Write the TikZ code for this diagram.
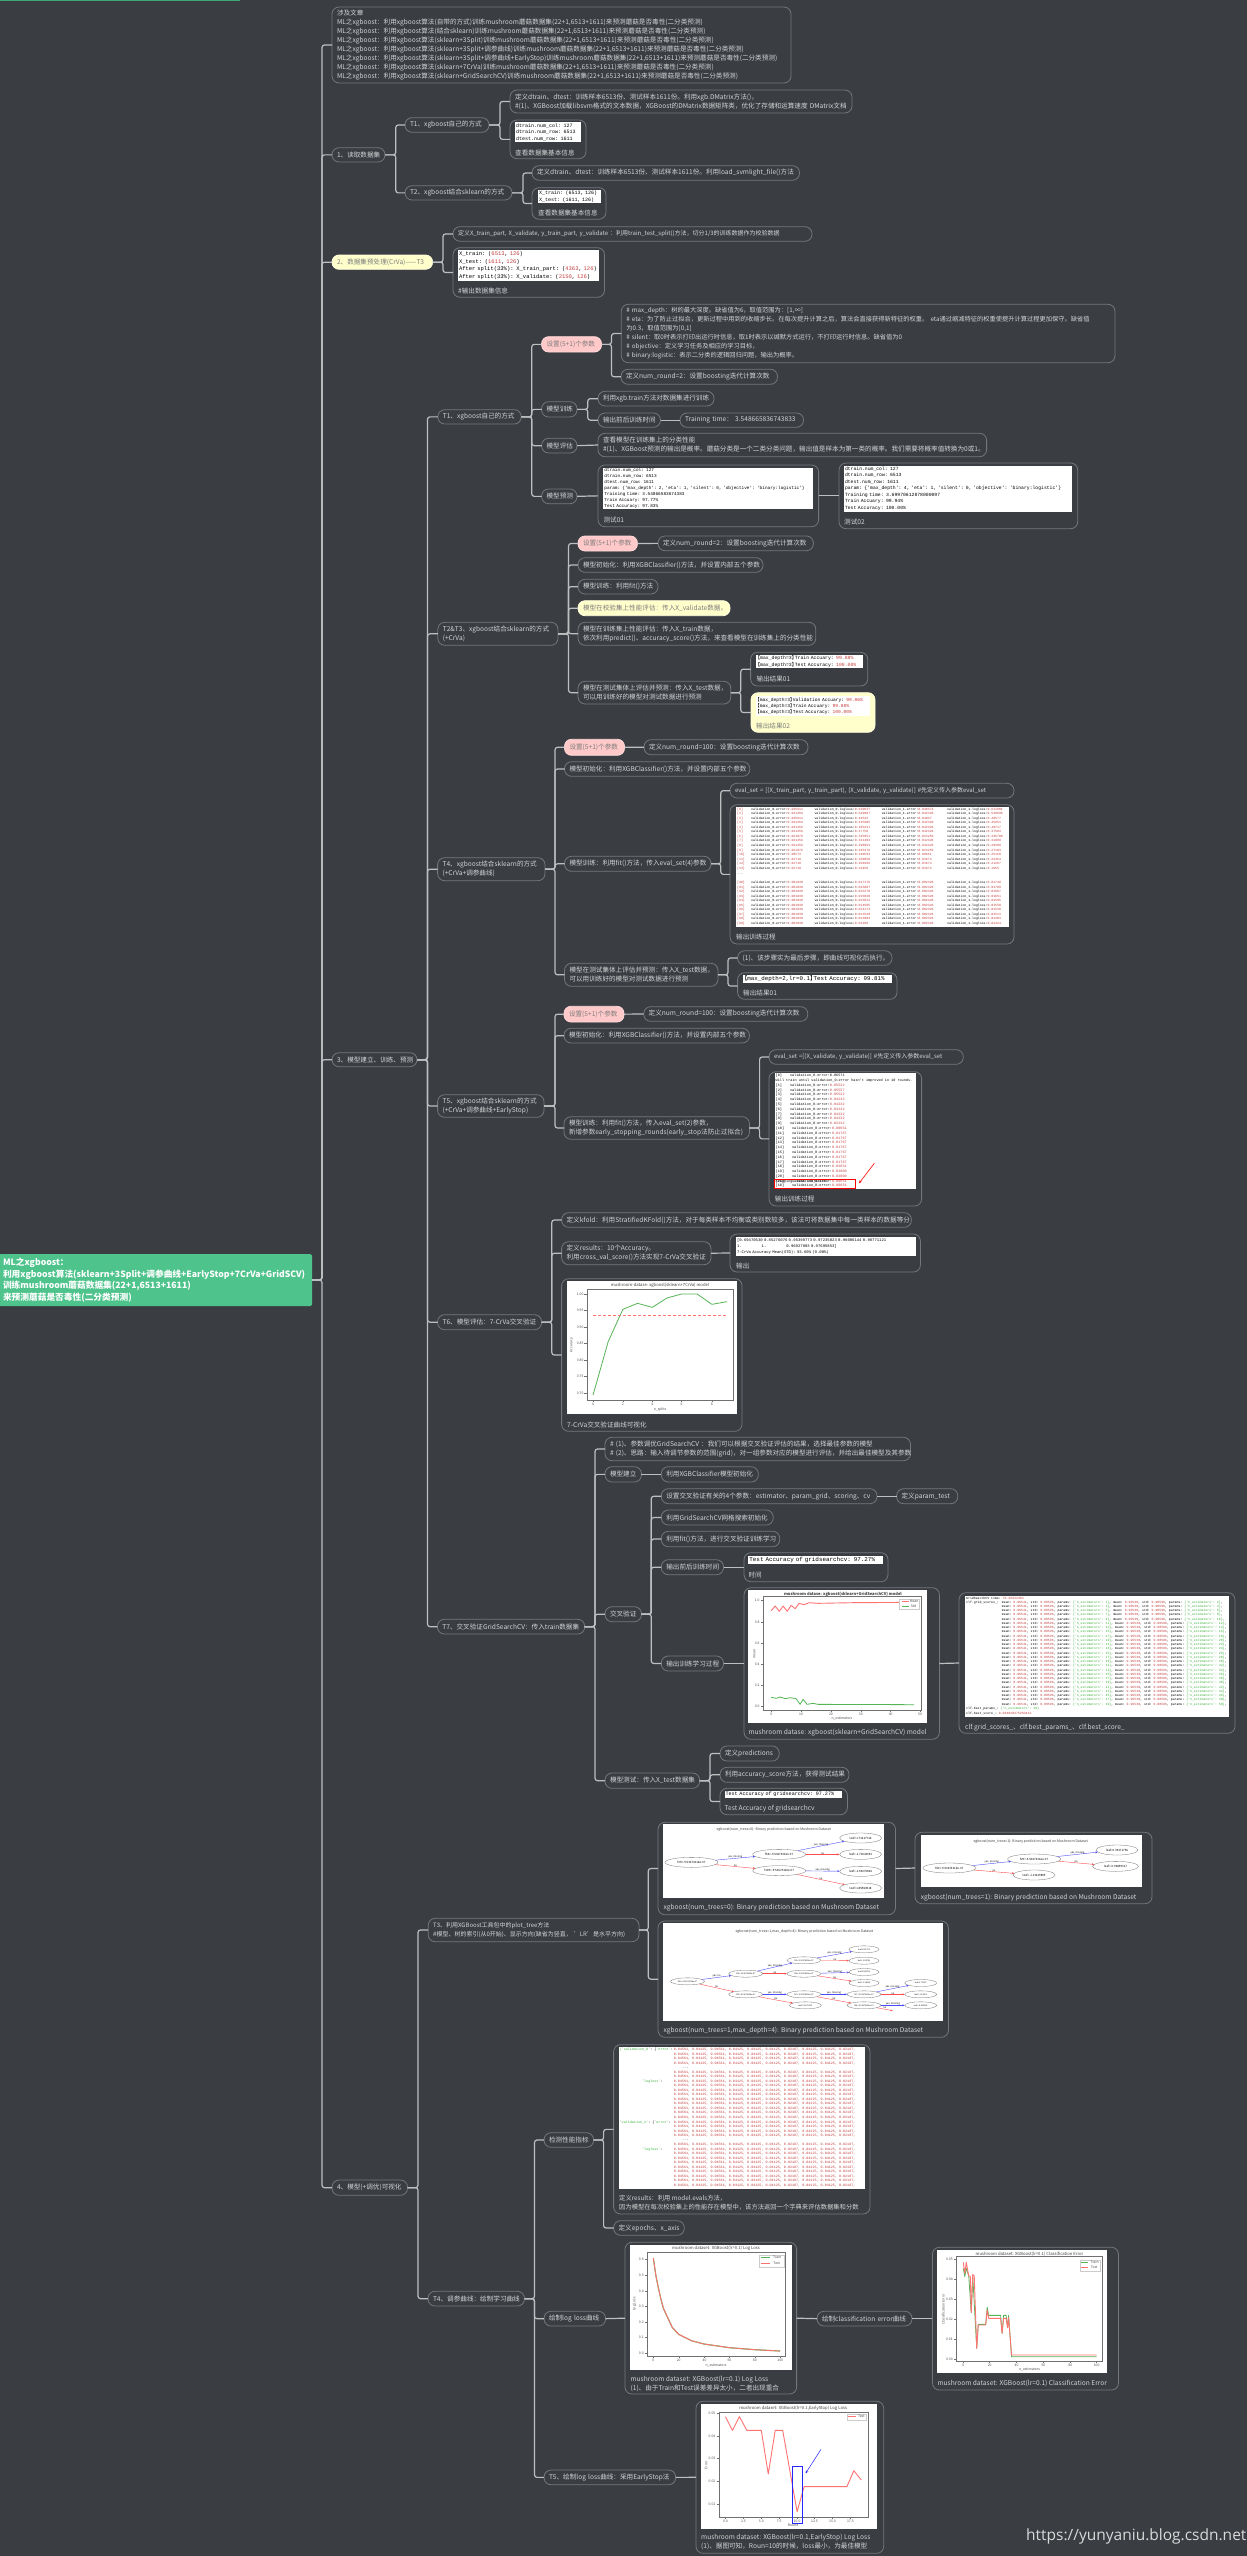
\documentclass[tikz,border=0pt]{standalone}
\usepackage{fontspec}
\setmainfont{Noto Sans CJK SC}
\setmonofont{Liberation Mono}
\newfontfamily\wmfont{Open Sans}
\usetikzlibrary{arrows.meta,shapes.geometric}
\definecolor{bg}{HTML}{3A3D42}
\definecolor{bd}{HTML}{73767B}
\definecolor{tx}{HTML}{D4D5D6}
\definecolor{cn}{HTML}{BDBFC1}
\definecolor{rootg}{HTML}{4FC38C}
\definecolor{topg}{HTML}{3FA877}
\definecolor{pinkf}{HTML}{FFC9C9}
\definecolor{yelf}{HTML}{FFFFCC}
\definecolor{dimt}{HTML}{7C7C7C}
\definecolor{rd}{HTML}{C43C3C}
\definecolor{grn}{HTML}{35B035}
\definecolor{crv}{HTML}{FF7272}
\definecolor{crg}{HTML}{55B455}
\definecolor{axc}{HTML}{707070}
\newcommand\redt[1]{\textcolor{rd}{#1}}
\newcommand\grnt[1]{\textcolor{grn}{#1}}
\newcommand\lbk{{\rmfamily\makebox[.6em][r]{【}}}
\newcommand\rbk{{\rmfamily\makebox[.6em][l]{】}}}
\tikzset{
  rc/.style n args={4}{at={(#1,#2)},anchor=north west,minimum width={(#3-#1)*1pt},minimum height={(#4-#2)*1pt},text width={(#3-#1-10)*1pt}},
  pc/.style n args={4}{at={(#1,#2)},anchor=north west,minimum width={(#3-#1)*1pt},minimum height={(#4-#2)*1pt},text width={(#3-#1-2)*1pt}},
  fs/.style={font=\fontsize{#1}{9}\selectfont},
  topic/.style={draw=bd,fill=bg,rounded corners=7pt,text=tx,font=\fontsize{6.6}{9}\selectfont,inner xsep=5pt,inner ysep=0pt,align=left,outer sep=0pt,line width=.8pt},
  pinkn/.style={topic,fill=pinkf,draw=pinkf!70!white,text=dimt},
  yeln/.style={topic,fill=yelf,draw=yelf!70!white,text=dimt},
  rootn/.style={fill=rootg,rounded corners=1.5pt,text=white,font=\fontsize{8.7}{11.8}\selectfont\bfseries,inner xsep=4pt,inner ysep=0pt,align=left,outer sep=0pt},
  panel/.style={fill=white,inner xsep=1pt,inner ysep=0pt,outer sep=0pt,align=left,text=black},
  capn/.style={anchor=west,inner sep=0pt,text=tx,font=\fontsize{6.6}{9}\selectfont,align=left},
  capy/.style={capn,text=dimt},
  conn/.style={draw=cn,line width=1.2pt,rounded corners=2.5pt},
  elb/.style={to path={-- ++(#1,0) |- (\tikztotarget)}},
  lg/.style={anchor=west,inner sep=0pt,text=black,font=\ttfamily\fontsize{3.2}{4}\selectfont},
  tick/.style={inner sep=0pt,text=black!70,font=\fontsize{3.4}{4}\selectfont},
  ptitle/.style={inner sep=0pt,text=black!75,font=\fontsize{4.2}{5}\selectfont},
  axs/.style={draw=axc,line width=.4pt},
  cvr/.style={draw=crv,line width=.9pt,line join=round},
  cvg/.style={draw=crg,line width=.8pt,line join=round},
  tn/.style={ellipse,draw=black!55,fill=white,line width=.3pt,inner sep=0pt,text=black,font=\fontsize{2.9}{3.5}\selectfont,minimum width=#1,minimum height=10pt},
  tnb/.style={tn=#1,minimum height=7pt,font=\fontsize{2}{3}\selectfont},
  tb/.style={draw=blue!70,line width=.4pt,-{Stealth[length=2.2pt,width=2pt]}},
  tr/.style={draw=red!70,line width=.4pt,-{Stealth[length=2.2pt,width=2pt]}},
  tl/.style={inner sep=0pt,text=black,font=\fontsize{2.5}{3}\selectfont,above,midway},
}
\begin{document}
\begin{tikzpicture}[x=1pt,y=-1pt]
\useasboundingbox (0,0) rectangle (1247,2556);
\fill[bg] (0,0) rectangle (1247,2556);
\fill[topg] (0,0) rectangle (240,1.2);

% ---------- root and level 1
\node[rootn,at={(-1,1254)},anchor=north west,minimum width=313pt,minimum height=52pt,text width=305pt] (root) {ML之xgboost：\\利用xgboost算法(sklearn+3Split+调参曲线+EarlyStop+7CrVa+GridSCV)\\训练mushroom蘑菇数据集(22+1,6513+1611)\\来预测蘑菇是否毒性(二分类预测)};
\node[topic,rc={332}{7}{791}{83}] (art) {涉及文章\\ML之xgboost：利用xgboost算法(自带的方式)训练mushroom蘑菇数据集(22+1,6513+1611)来预测蘑菇是否毒性(二分类预测)\\ML之xgboost：利用xgboost算法(结合sklearn)训练mushroom蘑菇数据集(22+1,6513+1611)来预测蘑菇是否毒性(二分类预测)\\ML之xgboost：利用xgboost算法(sklearn+3Split)训练mushroom蘑菇数据集(22+1,6513+1611)来预测蘑菇是否毒性(二分类预测)\\ML之xgboost：利用xgboost算法(sklearn+3Split+调参曲线)训练mushroom蘑菇数据集(22+1,6513+1611)来预测蘑菇是否毒性(二分类预测)\\ML之xgboost：利用xgboost算法(sklearn+3Split+调参曲线+EarlyStop)训练mushroom蘑菇数据集(22+1,6513+1611)来预测蘑菇是否毒性(二分类预测)\\ML之xgboost：利用xgboost算法(sklearn+7CrVa)训练mushroom蘑菇数据集(22+1,6513+1611)来预测蘑菇是否毒性(二分类预测)\\ML之xgboost：利用xgboost算法(sklearn+GridSearchCV)训练mushroom蘑菇数据集(22+1,6513+1611)来预测蘑菇是否毒性(二分类预测)};
\node[topic,rc={332}{147.7}{385}{162}] (n1) {1、读取数据集};
\node[yeln,rc={332}{255}{432.6}{269.3}] (n2) {2、数据集预处理(CrVa)——T3};
\node[topic,rc={332}{1052.7}{417}{1066.7}] (n3) {3、模型建立、训练、预测};
\node[topic,rc={332}{2180}{407.5}{2195.3}] (n4) {4、模型(+调优)可视化};

% ---------- section 1
\node[topic,rc={405}{117.7}{489}{132.3}] (a1) {T1、xgboost自己的方式};
\node[topic,rc={510}{90}{852}{113}] (a11) {定义dtrain、dtest：训练样本6513份、测试样本1611份。利用xgb.DMatrix方法()，\\\#(1)、XGBoost加载libsvm格式的文本数据，XGBoost的DMatrix数据矩阵类，优化了存储和运算速度 DMatrix文档};
\node[topic,rc={510}{120}{586}{158.7}] (a12) {};
\node[panel,pc={515}{122.3}{581}{142.3},font=\ttfamily\fontsize{5}{6.6}\selectfont] (a12p) {dtrain.num\_col: 127\\dtrain.num\_row: 6513\\dtest.num\_row: 1611};
\node[capn] (a12c) at (515,152.7) {查看数据集基本信息};
\node[topic,rc={405}{185.7}{512}{200}] (a2) {T2、xgboost结合sklearn的方式};
\node[topic,rc={532}{165.7}{799.5}{180.3}] (a21) {定义dtrain、dtest：训练样本6513份、测试样本1611份。利用load\_svmlight\_file()方法};
\node[topic,rc={532}{187.7}{606}{219.3}] (a22) {};
\node[panel,pc={538}{190}{601}{203.3},font=\ttfamily\fontsize{5}{6.6}\selectfont] (a22p) {X\_train: (6513, 126)\\X\_test: (1611, 126)};
\node[capn] (a22c) at (538,213.3) {查看数据集基本信息};

% ---------- section 2
\node[topic,rc={453}{226.7}{812}{241.3},fs=6] (b1) {定义X\_train\_part, X\_validate, y\_train\_part, y\_validate ：利用train\_test\_split()方法，切分1/3的训练数据作为校验数据};
\node[topic,rc={453}{247.7}{604.5}{297.3}] (b2) {};
\node[panel,pc={458}{250}{599}{281.3},font=\ttfamily\fontsize{5.5}{7.4}\selectfont] (b2p) {X\_train: (\redt{6513}, \redt{126})\\X\_test: (\redt{1611}, \redt{126})\\After split(33\%): X\_train\_part: (\redt{4363}, \redt{126})\\After split(33\%): X\_validate: (\redt{2150}, \redt{126})};
\node[capn] (b2c) at (458,291.3) {\#输出数据集信息};

% ---------- T1
\node[topic,rc={437.8}{409.7}{521.3}{424}] (c) {T1、xgboost自己的方式};
\node[pinkn,rc={541.6}{336.7}{601.5}{352}] (c1) {设置(5+1)个参数};
\node[topic,rc={621.3}{304.3}{1115}{362.7},fs=6.25] (c11) {\# max\_depth：树的最大深度。缺省值为6，取值范围为：[1,∞]\\\# eta：为了防止过拟合，更新过程中用到的收缩步长。在每次提升计算之后，算法会直接获得新特征的权重。 eta通过缩减特征的权重使提升计算过程更加保守。缺省值\\为0.3，取值范围为[0,1]\\\# silent：取0时表示打印出运行时信息，取1时表示以缄默方式运行，不打印运行时信息。缺省值为0\\\# objective：定义学习任务及相应的学习目标，\\\# binary:logistic：表示二分类的逻辑回归问题，输出为概率。};
\node[topic,rc={621}{369.3}{777.5}{384.3}] (c12) {定义num\_round=2：设置boosting迭代计算次数};
\node[topic,rc={541.6}{401.7}{577}{417}] (c2) {模型训练};
\node[topic,rc={598}{391.3}{714}{406}] (c21) {利用xgb.train方法对数据集进行训练};
\node[topic,rc={598}{413}{660.5}{427.3}] (c22) {输出前后训练时间};
\node[topic,rc={680}{413}{803.5}{427.3}] (c23) {Training time： 3.548665836743833};
\node[topic,rc={541.6}{438.3}{577}{453}] (c3) {模型评估};
\node[topic,rc={598}{433.3}{986.6}{456.7}] (c31) {查看模型在训练集上的分类性能\\\#(1)、XGBoost预测的输出是概率。蘑菇分类是一个二类分类问题，输出值是样本为第一类的概率。我们需要将概率值转换为0或1。};
\node[topic,rc={541.6}{489}{577}{503.7}] (c4) {模型预测};
\node[topic,rc={598}{465}{818.6}{526.7}] (c41) {};
\node[panel,pc={603.4}{467.7}{813.4}{509.3},font=\ttfamily\fontsize{4.4}{5.95}\selectfont] (c41p) {dtrain.num\_col: 127\\dtrain.num\_row: 6513\\dtest.num\_row: 1611\\param: \{'max\_depth': 2, 'eta': 1, 'silent': 0, 'objective': 'binary:logistic'\}\\Training time: 3.54866583674383\\Train Accuary: 97.77\%\\Test Accuracy: 97.83\%};
\node[capn] (c41c) at (603.4,519.7) {测试01};
\node[topic,rc={839}{463}{1077.7}{528.7}] (c42) {};
\node[panel,pc={844}{465.7}{1072}{511.7},font=\ttfamily\fontsize{4.75}{6.5}\selectfont] (c42p) {dtrain.num\_col: 127\\dtrain.num\_row: 6513\\dtest.num\_row: 1611\\param: \{'max\_depth': 4, 'eta': 1, 'silent': 0, 'objective': 'binary:logistic'\}\\Training time: 3.69970612878000097\\Train Accuary: 99.94\%\\Test Accuracy: 100.00\%};
\node[capn] (c42c) at (844,521.7) {测试02};

% ---------- T2&T3
\node[topic,rc={437.8}{622.3}{558}{645.3}] (d) {T2\&T3、xgboost结合sklearn的方式\\(+CrVa)};
\node[pinkn,rc={578}{536}{637.4}{551}] (d1) {设置(5+1)个参数};
\node[topic,rc={658}{536}{813.4}{550.7}] (d11) {定义num\_round=2：设置boosting迭代计算次数};
\node[topic,rc={578}{557.7}{763}{572.3}] (d2) {模型初始化：利用XGBClassifier()方法，并设置内部五个参数};
\node[topic,rc={578}{579.3}{658}{594}] (d3) {模型训练：利用fit()方法};
\node[yeln,rc={578}{600.7}{730}{615.7}] (d4) {模型在校验集上性能评估：传入X\_validate数据。};
\node[topic,rc={578}{622.3}{815.8}{645.3}] (d5) {模型在训练集上性能评估：传入X\_train数据，\\依次利用predict()、accuracy\_score()方法，来查看模型在训练集上的分类性能};
\node[topic,rc={578}{681.3}{730.8}{704}] (d6) {模型在测试集体上评估并预测：传入X\_test数据，\\可以用训练好的模型对测试数据进行预测};
\node[topic,rc={750.6}{652.3}{867.7}{686}] (d61) {};
\node[panel,pc={756.3}{655}{862.5}{668.3},font=\ttfamily\fontsize{4.8}{6.5}\selectfont] (d61p) {\lbk max\_depth=3\rbk Train Accuary: \redt{99.88\%}\\\lbk max\_depth=3\rbk Test Accuracy: \redt{100.00\%}};
\node[capn] (d61c) at (756.3,679.3) {输出结果01};
\node[yeln,rc={751}{692.7}{875}{732.3}] (d62) {};
\node[panel,pc={756}{696}{869.6}{715.7},font=\ttfamily\fontsize{4.6}{6.3}\selectfont] (d62p) {\lbk max\_depth=3\rbk Validation Accuary: \redt{99.86\%}\\\lbk max\_depth=3\rbk Train Accuary: \redt{99.88\%}\\\lbk max\_depth=3\rbk Test Accuracy: \redt{100.00\%}};
\node[capy] (d62c) at (756,725.7) {输出结果02};

% ---------- T4
\node[topic,rc={437.6}{857.7}{545}{880.7}] (e) {T4、xgboost结合sklearn的方式\\(+CrVa+调参曲线)};
\node[pinkn,rc={564.5}{739.3}{624.5}{755.3}] (e1) {设置(5+1)个参数};
\node[topic,rc={644}{739.7}{808}{754.7}] (e11) {定义num\_round=100：设置boosting迭代计算次数};
\node[topic,rc={564.5}{761.7}{749.8}{776.3}] (e2) {模型初始化：利用XGBClassifier()方法，并设置内部五个参数};
\node[topic,rc={564.5}{856.3}{711}{871.3}] (e3) {模型训练：利用fit()方法，传入eval\_set(4)参数};
\node[topic,rc={730}{783.3}{1014}{798},fs=6] (e31) {eval\_set = [(X\_train\_part, y\_train\_part), (X\_validate, y\_validate)] \#先定义传入参数eval\_set};
\node[topic,rc={730}{804.7}{1014}{944}] (e32) {};
\node[panel,pc={736}{807.3}{1009}{927.3}] (e32p) {};
\foreach \n/\va/\vb/\vc/\vd in {0/0.045611/0.610637/0.048372/0.611001,1/0.041256/0.540987/0.042326/0.539696,2/0.045611/0.49543/0.04837/0.49577,3/0.041256/0.445985/0.042326/0.45951,4/0.041256/0.405231/0.042326/0.40717,5/0.041256/0.37758/0.042326/0.37503,6/0.021876/0.345951/0.023256/0.346709,7/0.041256/0.321303/0.042326/0.31909,8/0.041256/0.290952/0.042326/0.29209,9/0.021876/0.265376/0.023256/0.27103,10/0.00573/0.240593/0.00651/0.25158,11/0.01719/0.220858/0.01674/0.22464,12/0.01719/0.204992/0.01674/0.21267,13/0.01719/0.19458/0.01674/0.1955} {
  \node[lg] (ea\n) at (737,{809.3+\n*4.55}) {\makebox[14pt][l]{\redt{[\n]}}\makebox[63.3pt][l]{validation\_0-error:\redt{\va}}\makebox[67.3pt][l]{validation\_0-logloss:\redt{\vb}}\makebox[65.4pt][l]{validation\_1-error:\redt{\vc}}validation\_1-logloss:\redt{\vd}};
}
\node[lg] (edots) at (737,874) {...};
\foreach \n/\va/\vb/\vc/\vd in {90/0.001838/0.017176/0.002326/0.01748,91/0.001838/0.015807/0.002326/0.01709,92/0.001838/0.015378/0.002326/0.01687,93/0.001838/0.015038/0.002326/0.01651,94/0.001838/0.015012/0.002326/0.01595,95/0.001838/0.014585/0.002326/0.01550,96/0.001838/0.014173/0.002326/0.01520,97/0.001838/0.013520/0.002326/0.01511,98/0.001838/0.013003/0.002326/0.01483,99/0.001838/0.01268/0.002326/0.01424} {
  \node[lg] (eb\n) at (737,{882.7+(\n-90)*4.55}) {\makebox[14pt][l]{\redt{[\n]}}\makebox[63.3pt][l]{validation\_0-error:\redt{\va}}\makebox[67.3pt][l]{validation\_0-logloss:\redt{\vb}}\makebox[65.4pt][l]{validation\_1-error:\redt{\vc}}validation\_1-logloss:\redt{\vd}};
}
\node[capn] (e32c) at (736,937.3) {输出训练过程};
\node[topic,rc={564.5}{963.3}{718}{986.3}] (e4) {模型在测试集体上评估并预测：传入X\_test数据，\\可以用训练好的模型对测试数据进行预测};
\node[topic,rc={737.6}{950.7}{892}{965.3}] (e41) {(1)、该步骤实为最后步骤，即曲线可视化后执行。};
\node[topic,rc={737.6}{972.7}{897}{999.3}] (e42) {};
\node[panel,pc={743}{974.7}{892}{982.7},font=\ttfamily\fontsize{5.8}{7}\selectfont] (e42p) {\lbk max\_depth=2,lr=0.1\rbk Test Accuracy: 99.81\%};
\node[capn] (e42c) at (743,992.7) {输出结果01};

% ---------- T5
\node[topic,rc={437.6}{1094.7}{544}{1117.3}] (f) {T5、xgboost结合sklearn的方式\\(+CrVa+调参曲线+EarlyStop)};
\node[pinkn,rc={564}{1006.3}{624}{1022}] (f1) {设置(5+1)个参数};
\node[topic,rc={643.7}{1006.7}{807.8}{1021.3}] (f11) {定义num\_round=100：设置boosting迭代计算次数};
\node[topic,rc={564}{1028.3}{749.4}{1043}] (f2) {模型初始化：利用XGBClassifier()方法，并设置内部五个参数};
\node[topic,rc={564}{1116.7}{749.4}{1139.3}] (f3) {模型训练：利用fit()方法，传入eval\_set(2)参数，\\新增参数early\_stopping\_rounds(early\_stop法防止过拟合)};
\node[topic,rc={769}{1049.7}{963.3}{1064.3},fs=6] (f31) {eval\_set =[(X\_validate, y\_validate)] \#先定义传入参数eval\_set};
\node[topic,rc={769}{1071.7}{921.6}{1206}] (f32) {};
\node[panel,pc={774.7}{1073.3}{916}{1189.3}] (f32p) {};
\node[lg,font=\ttfamily\fontsize{3.5}{4}\selectfont] (fh0) at (775.5,1075.7) {[0]\hspace{8pt}validation\_0-error:0.06571};
\node[lg,font=\ttfamily\fontsize{3.5}{4}\selectfont] (fh1) at (775.5,1080.5) {Will train until validation\_0-error hasn't improved in 10 rounds.};
\foreach \n/\va in {1/0.05522,2/0.05557,3/0.05522,4/0.04232,5/0.04232,6/0.03232,7/0.04232,8/0.04232,9/0.02232,10/0.00651,11/0.01767,12/0.01767,13/0.01767,14/0.01767,15/0.01767,16/0.01767,17/0.01767,18/0.02651,19/0.02000,20/0.02000,21/0.00651} {
  \node[lg,font=\ttfamily\fontsize{3.5}{4}\selectfont] (fr\n) at (775.5,{1080.5+\n*4.8}) {[\n]\hspace{8pt}validation\_0-error:\redt{\va}};
}
\node[lg,font=\ttfamily\fontsize{3.5}{4}\selectfont] (fs1) at (775.5,1181.2) {Stopping. Best iteration:};
\node[lg,font=\ttfamily\fontsize{3.5}{4}\selectfont] (fs2) at (775.5,1186) {[10]\hspace{8pt}validation\_0-error:\redt{0.00651}};
\draw[red,line width=.7pt] (774.7,1179) rectangle (855.5,1188.7);
\draw[red,line width=.6pt,-{Stealth[length=3pt,width=2.5pt]}] (874.3,1163.3) -- (859,1183.3);
\node[capn] (f32c) at (774.7,1199.3) {输出训练过程};

% ---------- T6
\node[topic,rc={437.6}{1314.7}{541.6}{1329.7}] (g) {T6、模型评估：7-CrVa交叉验证};
\node[topic,rc={561.6}{1212.7}{911.4}{1227.3}] (g1) {定义kfold：利用StratifiedKFold()方法，对于每类样本不均衡或类别数较多，该法可将数据集中每一类样本的数据等分};
\node[topic,rc={561.6}{1241.7}{711}{1264.7}] (g2) {定义results：10个Accuracy。\\利用cross\_val\_score()方法实现7-CrVa交叉验证};
\node[topic,rc={730}{1234}{920.4}{1272}] (g21) {};
\node[panel,pc={736}{1236.7}{915.5}{1255.7},font=\ttfamily\fontsize{3.9}{6}\selectfont] (g21p) {[0.69470530 0.85276076 0.95398773 0.97235023 0.96006144 0.98771121\\ 1.\hspace{20pt}1.\hspace{20pt}0.96927803 0.97695853]\\7-CrVa Accuracy Mean(STD): 93.60\% (9.00\%)};
\node[capn] (g21c) at (736,1265.7) {输出};
\node[topic,rc={561.6}{1278.7}{742}{1431.3}] (g3) {};
\node[panel,pc={567}{1281}{736.7}{1414.3}] (g3p) {};
\node[capn] (g3c) at (567,1425) {7-CrVa交叉验证曲线可视化};
\begin{scope}[shift={(400,1170)},x=0.40816pt,y=-0.33333pt]
  \draw[axs] (458,358) rectangle (817,690);
  \node[ptitle] (g3t) at (637,345) {mushroom-datase: xgboost(sklearn+7CrVa) model};
  \foreach \p/\l in {373/1.00,422/0.95,472/0.90,521/0.85,571/0.80,620/0.75,670/0.70} {
    \draw[axs] (452,\p) -- (458,\p); \node[tick,anchor=east] (g3y\p) at (450,\p) {\l};}
  \foreach \p/\l in {473/0,546/2,618/4,690/6,764/8} {
    \draw[axs] (\p,690) -- (\p,695); \node[tick] (g3x\p) at (\p,703) {\l};}
  \node[tick] (g3xl) at (637,719) {n\_splits};
  \node[tick,rotate=90] (g3yl) at (420,525) {Accuracy};
  \draw[cvg] (473,675) -- (510,515) -- (546,418) -- (582,400) -- (618,412) -- (654,384) -- (690,372) -- (728,372) -- (764,403) -- (801,395);
  \draw[cvr,densely dashed] (473,435) -- (801,435);
\end{scope}

% ---------- T7
\node[topic,rc={437.4}{1619.3}{584.7}{1634}] (h) {T7、交叉验证GridSearchCV：传入train数据集};
\node[topic,rc={605}{1437.3}{910.5}{1460.7}] (h1) {\# (1)、参数调优GridSearchCV ：我们可以根据交叉验证评估的结果，选择最佳参数的模型\\\# (2)、思路：输入待调节参数的范围(grid)，对一组参数对应的模型进行评估，并给出最佳模型及其参数};
\node[topic,rc={605}{1466.7}{641.4}{1482}] (h2) {模型建立};
\node[topic,rc={661.3}{1466.7}{758.3}{1482}] (h21) {利用XGBClassifier模型初始化};
\node[topic,rc={605}{1606.7}{641.4}{1621.7}] (h3) {交叉验证};
\node[topic,rc={661.3}{1488.7}{877}{1503.7}] (h31) {设置交叉验证有关的4个参数：estimator、param\_grid、scoring、cv};
\node[topic,rc={896.6}{1488.7}{957.8}{1503.7}] (h311) {定义param\_test};
\node[topic,rc={661.3}{1510}{773.2}{1525}] (h32) {利用GridSearchCV网格搜索初始化};
\node[topic,rc={661.3}{1531.3}{779.7}{1546.7}] (h33) {利用fit()方法，进行交叉验证训练学习};
\node[topic,rc={661.3}{1559.7}{723.5}{1574.7}] (h34) {输出前后训练时间};
\node[topic,rc={744}{1552.7}{888}{1581.7}] (h341) {};
\node[panel,pc={748.4}{1555.7}{882.7}{1564.3},font=\ttfamily\fontsize{5.9}{7}\selectfont] (h341p) {Test Accuracy of gridsearchcv: 97.27\%};
\node[capn] (h341c) at (748.4,1574.7) {时间};
\node[topic,rc={661.3}{1656}{723.5}{1671}] (h35) {输出训练学习过程};
\node[topic,rc={744}{1587.7}{939.4}{1739.3}] (h351) {};
\node[panel,pc={748.4}{1590}{926.5}{1722.7}] (h351p) {};
\node[capn] (h351c) at (748.4,1732.7) {mushroom datase: xgboost(sklearn+GridSearchCV) model};
\begin{scope}[shift={(420,1420)},x=0.49751pt,y=-0.33333pt]
  \draw[axs] (690,530) rectangle (1007,870);
  \node[ptitle,font=\fontsize{4}{5}\selectfont\bfseries] (h3t) at (850,522) {mushroom datase: xgboost(sklearn+GridSearchCV) model};
  \foreach \p/\l in {542/1.0,606/0.8,670/0.6,733/0.4,797/0.2,860/0.0} {
    \draw[axs] (685,\p) -- (690,\p); \node[tick,anchor=east] (h3y\p) at (683,\p) {\l};}
  \foreach \p/\l in {706/0,766/10,826/20,886/30,946/40,1005/50} {
    \draw[axs] (\p,870) -- (\p,875); \node[tick] (h3x\p) at (\p,882) {\l};}
  \node[tick] (h3xl) at (848,895) {n\_estimators};
  \node[tick,rotate=90] (h3yl) at (672,702) {mean};
  \draw[cvr] (706,572) -- (714,558) -- (722,574) -- (730,558) -- (738,574) -- (746,556) -- (754,566) -- (762,550) -- (772,554) -- (782,548) -- (800,550) -- (870,548) -- (993,547);
  \draw[cvg] (706,832) -- (716,835) -- (724,831) -- (734,836) -- (744,833) -- (756,836) -- (764,853) -- (770,838) -- (778,853) -- (790,850) -- (800,853) -- (993,854);
  \draw[draw=black!20,fill=white,line width=.3pt] (964,537) rectangle (1003,568);
  \draw[cvr] (968,545) -- (982,545); \node[tick] (h3l1) at (993,545) {Mean};
  \draw[cvg] (968,558) -- (982,558); \node[tick] (h3l2) at (992,558) {Std};
\end{scope}
\node[topic,rc={959}{1592.7}{1235}{1733.3}] (h36) {};
\node[panel,pc={965}{1595.7}{1228.7}{1716.7}] (h36p) {};
\node[lg] (h36a) at (966,1598) {GridSearchCV time: \redt{70.36632304}};
\node[lg] (h36b) at (966,1602.3) {clf.grid\_scores\_:};
\foreach \i in {0,...,24} {
  \pgfmathtruncatemacro\na{2*\i+1}\pgfmathtruncatemacro\nb{2*\i+2}
  \node[lg] (h36r\i) at (1001.7,{1602.3+\i*4.25}) {mean: \redt{0.96541}, std: \redt{0.00596}, params: \grnt{\{'n\_estimators': \na\}}, mean: \redt{0.96530}, std: \redt{0.00596}, params: \grnt{\{'n\_estimators': \nb\}},};
}
\node[lg] (h36c) at (966,1708.7) {clf.best\_params\_: \grnt{\{'n\_estimators': 39\}}};
\node[lg] (h36d) at (966,1713) {clf.best\_score\_: \redt{0.984020475283431}};
\node[capn] (h36t) at (965,1727.3) {clf.grid\_scores\_、clf.best\_params\_、clf.best\_score\_};
\node[topic,rc={605}{1773}{699.6}{1788.3}] (h4) {模型测试：传入X\_test数据集};
\node[topic,rc={720}{1746}{779.2}{1761}] (h41) {定义predictions};
\node[topic,rc={720}{1767.3}{849}{1782.3}] (h42) {利用accuracy\_score方法，获得测试结果};
\node[topic,rc={720}{1788.3}{847.4}{1814.7}] (h43) {};
\node[panel,pc={724.5}{1791}{842}{1798.3},font=\ttfamily\fontsize{5.1}{6}\selectfont] (h43p) {Test Accuracy of gridsearchcv: 97.27\%};
\node[capn] (h43c) at (724.5,1808.3) {Test Accuracy of gridsearchcv};

% ---------- section 4 : T3 trees
\node[topic,rc={428.2}{1918.3}{639}{1941.7},fs=6] (k) {T3、利用XGBoost工具包中的plot\_tree方法\\\#模型、树的索引(从0开始)、显示方向(缺省为竖直， 'LR'是水平方向)};
\node[topic,rc={658}{1822.3}{895.5}{1914.7}] (k1) {};
\node[panel,pc={663.3}{1824.3}{884.4}{1897.7}] (k1p) {};
\node[capn] (k1c) at (663.3,1908) {xgboost(num\_trees=0): Binary prediction based on Mushroom Dataset};
\node[topic,rc={915}{1832.3}{1152}{1903.7}] (k2) {};
\node[panel,pc={920.7}{1835}{1141.8}{1887.3}] (k2p) {};
\node[capn] (k2c) at (920.7,1897.3) {xgboost(num\_trees=1): Binary prediction based on Mushroom Dataset};
\node[topic,rc={658}{1921}{948.4}{2037.3}] (k3) {};
\node[panel,pc={663.3}{1923.3}{943}{2020.7}] (k3p) {};
\node[capn] (k3c) at (663.3,2030.7) {xgboost(num\_trees=1,max\_depth=4): Binary prediction based on Mushroom Dataset};
\begin{scope}[shift={(420,1800)},x=0.48473pt,y=-0.33333pt]
  \node[ptitle,font=\fontsize{3.5}{4}\selectfont] (t0t) at (730,87) {xgboost(num\_trees=0): Binary prediction based on Mushroom Dataset};
  \node[tn=53pt] (t0a) at (560,187) {f29<-9.53674316e-07};
  \node[tn=53pt] (t0b) at (741,163) {f56<-9.53674316e-07};
  \node[tn=53pt] (t0c) at (741,212) {f109<-9.53674316e-07};
  \node[tn=42pt] (t0d) at (909,114) {leaf=1.71217716};
  \node[tn=42pt] (t0e) at (909,163) {leaf=-1.70044053};
  \node[tn=42pt] (t0f) at (909,214) {leaf=-1.94070864};
  \node[tn=42pt] (t0g) at (909,264) {leaf=1.85964918};
  \draw[tb] (t0a) -- node[tl](t0e1){yes, missing} (t0b);
  \draw[tr] (t0a) -- node[tl](t0e2){no} (t0c);
  \draw[tb] (t0b) -- node[tl](t0e3){yes, missing} (t0d);
  \draw[tr] (t0b) -- node[tl](t0e4){no} (t0e);
  \draw[tb] (t0c) -- node[tl](t0e5){yes, missing} (t0f);
  \draw[tr] (t0c) -- node[tl](t0e6){no} (t0g);
  \node[ptitle,font=\fontsize{3.5}{4}\selectfont] (t1t) at (1260,124) {xgboost(num\_trees=1): Binary prediction based on Mushroom Dataset};
  \node[tn=53pt] (t1a) at (1092,204) {f60<-9.53674316e-07};
  \node[tn=53pt] (t1b) at (1267,177) {f29<-9.53674316e-07};
  \node[tn=42pt] (t1c) at (1267,225) {leaf=-1.13619809};
  \node[tn=42pt] (t1d) at (1438,150) {leaf=0.78471756};
  \node[tn=46pt] (t1e) at (1435,199) {leaf=-0.96859317};
  \draw[tb] (t1a) -- node[tl](t1e1){yes, missing} (t1b);
  \draw[tr] (t1a) -- node[tl](t1e2){no} (t1c);
  \draw[tb] (t1b) -- node[tl](t1e3){yes, missing} (t1d);
  \draw[tr] (t1b) -- node[tl](t1e4){no} (t1e);
  \node[ptitle,font=\fontsize{3.5}{4}\selectfont] (t2t) at (793,394) {xgboost(num\_trees=1,max\_depth=4): Binary prediction based on Mushroom Dataset};
  \node[tnb=34pt] (t2a) at (552,544) {f60<-9.53674316e-07};
  \node[tnb=34pt] (t2b) at (672,521) {f29<-9.53674316e-07};
  \node[tnb=34pt] (t2c) at (672,583) {f23<-9.53674316e-07};
  \node[tnb=34pt] (t2d) at (792,481) {f21<-9.53674316e-07};
  \node[tnb=34pt] (t2e) at (792,521) {f28<-9.53674316e-07};
  \node[tnb=34pt] (t2f) at (792,583) {f37<-9.53674316e-07};
  \node[tnb=32pt] (t2g) at (795,616) {leaf=-0.872313};
  \node[tnb=30pt] (t2h) at (916,448) {leaf=0.55725};
  \node[tnb=30pt] (t2i) at (916,482) {leaf=-1.04781};
  \node[tnb=30pt] (t2j) at (916,516) {leaf=0.89539};
  \node[tnb=30pt] (t2k) at (916,549) {leaf=-1.14539};
  \node[tnb=34pt] (t2l) at (916,583) {f37<-9.53674316e-07};
  \node[tnb=34pt] (t2m) at (916,616) {f54<-9.53674316e-07};
  \node[tnb=32pt] (t2n) at (1033,549) {leaf=1.71097};
  \node[tnb=32pt] (t2o) at (1033,583) {leaf=-1.13052};
  \node[tnb=32pt] (t2p) at (1033,616) {leaf=-0.829168};
  \coordinate (t2q) at (975,632);
  \foreach \s/\t/\l [count=\k] in {t2a/t2b/{yes, no},t2b/t2d/{yes, missing},t2d/t2h/{yes, missing},t2e/t2j/{yes, missing},t2c/t2f/{yes, missing},t2f/t2l/{yes, missing},t2l/t2n/{yes, missing},t2m/t2p/{yes, missing}} {
    \draw[tb] (\s) -- node[tl](t2bl\k){\l} (\t);}
  \foreach \s/\t [count=\k] in {t2a/t2c,t2b/t2e,t2d/t2i,t2e/t2k,t2c/t2g,t2f/t2m,t2l/t2o,t2m/t2q} {
    \draw[tr] (\s) -- node[tl](t2rl\k){no} (\t);}
\end{scope}

% ---------- T4 (section 4)
\node[topic,rc={428}{2291.3}{524.5}{2306}] (m) {T4、调参曲线：绘制学习曲线};
\node[topic,rc={544}{2132.7}{593.6}{2147.3}] (m1) {检测性能指标};
\node[topic,rc={613.6}{2044.7}{870}{2214}] (m11) {};
\node[panel,pc={619}{2047.3}{864.6}{2189.3}] (m11p) {};
\node[lg,font=\ttfamily\fontsize{3.4}{4}\selectfont] (m11a) at (619.5,2049.7) {\grnt{\{'validation\_0'}: \{\grnt{'error'}:};
\node[lg,font=\ttfamily\fontsize{3.4}{4}\selectfont] (m11b) at (642,2081.4) {\grnt{'logloss'}:};
\node[lg,font=\ttfamily\fontsize{3.4}{4}\selectfont] (m11c) at (619.5,2122.2) {\grnt{'validation\_1'}: \{\grnt{'error'}:};
\node[lg,font=\ttfamily\fontsize{3.4}{4}\selectfont] (m11d) at (642,2149.4) {\grnt{'logloss'}:};
\foreach \i in {0,1,2,3,5,6,7,8,9,10,11,12,13,14,15,16,17,18,19,21,22,23,24,25,26,27,28,29,30} {
  \node[lg,font=\ttfamily\fontsize{3.4}{4}\selectfont,text=rd] (m11r\i) at (673.6,{2049.7+\i*4.53}) {\ifodd\i 0.00573, 0.01719, 0.02189, 0.01800, 0.01719, 0.01719, 0.02189, 0.01719, 0.02189, 0.02280,\else 0.04561, 0.04125, 0.04561, 0.04125, 0.04125, 0.04125, 0.02187, 0.04125, 0.04125, 0.02187,\fi};
}
\node[lg,font=\ttfamily\fontsize{3.4}{4}\selectfont] (m11e) at (682,2067.8) {...};
\node[lg,font=\ttfamily\fontsize{3.4}{4}\selectfont] (m11f) at (682,2140.3) {...};
\node[capn,fs=6.3] (m11c2) at (619,2203) {定义results：利用 model.evals方法，\\因为模型在每次校验集上的性能存在模型中，该方法返回一个字典来评估数据集和分数};
\node[topic,rc={613.6}{2220.7}{684.3}{2235.3}] (m12) {定义epochs、x\_axis};
\node[topic,rc={544}{2311.3}{605.6}{2326}] (m2) {绘制log loss曲线};
\node[topic,rc={625}{2242.3}{796.6}{2394}] (m21) {};
\node[panel,pc={630.4}{2244.7}{791.6}{2369.7}] (m21p) {};
\node[capn] (m21c) at (630.4,2383.5) {mushroom dataset: XGBoost(lr=0.1) Log Loss\\(1)、由于Train和Test误差差异太小，二者出现重合};
\node[topic,rc={817}{2311.3}{912}{2326}] (m22) {绘制classification error曲线};
\node[topic,rc={932.4}{2247.3}{1118.5}{2390}] (m23) {};
\node[panel,pc={937.4}{2250}{1107}{2372.7}] (m23p) {};
\node[capn] (m23c) at (937.4,2383) {mushroom dataset: XGBoost(lr=0.1) Classification Error};
\node[topic,rc={544}{2470}{675.7}{2484.7}] (m3) {T5、绘制log loss曲线：采用EarlyStop法};
\node[topic,rc={696}{2401.3}{883.7}{2553.3}] (m31) {};
\node[panel,pc={701}{2404}{876.7}{2528.7}] (m31p) {};
\node[capn] (m31c) at (701,2542.2) {mushroom dataset: XGBoost(lr=0.1,EarlyStop) Log Loss\\(1)、据图可知，Roun=10的时候，loss最小，为最佳模型};
\begin{scope}[shift={(420,2230)},x=0.49751pt,y=-0.33333pt]
  % log loss
  \draw[axs] (457,68) rectangle (735,378);
  \node[ptitle] (p1t) at (595,56) {mushroom dataset: XGBoost(lr=0.1) Log Loss};
  \foreach \p/\l in {89/0.6,136/0.5,183/0.4,229/0.3,276/0.2,323/0.1,369/0.0} {
    \draw[axs] (452,\p) -- (457,\p); \node[tick,anchor=east] (p1y\p) at (450,\p) {\l};}
  \foreach \p/\l in {469/0,520/20,572/40,622/60,673/80,724/100} {
    \draw[axs] (\p,378) -- (\p,383); \node[tick] (p1x\p) at (\p,391) {\l};}
  \node[tick] (p1xl) at (595,407) {n\_estimators};
  \node[tick,rotate=90] (p1yl) at (431,222) {Log Loss};
  \draw[draw=crg,line width=1.1pt,line join=round] (469,84) -- (474,136) -- (479,173) -- (484,206) -- (489,234) -- (494.5,252) -- (507,292) -- (520,313) -- (545.5,332) -- (571,342) -- (622,353) -- (673,359) -- (724,363);
  \draw[cvr] (469,84) -- (474,136) -- (479,173) -- (484,206) -- (489,234) -- (494.5,252) -- (507,292) -- (520,313) -- (545.5,332) -- (571,342) -- (622,353) -- (673,359) -- (724,363);
  \draw[draw=black!20,fill=white,line width=.3pt] (682,75) rectangle (731,112);
  \draw[cvg] (686,83) -- (704,83); \node[tick] (p1l1) at (718,83) {Train};
  \draw[cvr] (686,101) -- (704,101); \node[tick] (p1l2) at (717,101) {Test};
  % classification error
  \draw[axs] (1078,80) rectangle (1372,395);
  \node[ptitle] (p2t) at (1225,72) {mushroom dataset: XGBoost(lr=0.1) Classification Error};
  \foreach \p/\l in {87/0.05,148/0.04,208/0.03,268/0.02,329/0.01,389/0.00} {
    \draw[axs] (1073,\p) -- (1078,\p); \node[tick,anchor=east] (p2y\p) at (1071,\p) {\l};}
  \foreach \p/\l in {1092/0,1145/20,1199/40,1253/60,1307/80,1360/100} {
    \draw[axs] (\p,395) -- (\p,400); \node[tick] (p2x\p) at (\p,407) {\l};}
  \node[tick] (p2xl) at (1225,418) {n\_estimators};
  \node[tick,rotate=90] (p2yl) at (1052,238) {Classification Error};
  \draw[cvg] (1092,115) -- (1095,140) -- (1098,115) -- (1103,138) -- (1108,248) -- (1111,138) -- (1119,355) -- (1122,283) -- (1137,283) -- (1140,232) -- (1143,256) -- (1167,256) -- (1170,310) -- (1173,256) -- (1178,256) -- (1181,293) -- (1183,256) -- (1189,380) -- (1360,380);
  \draw[cvr] (1092,97) -- (1095,130) -- (1098,97) -- (1103,138) -- (1106,138) -- (1108,248) -- (1111,133) -- (1114,138) -- (1119,355) -- (1122,285) -- (1137,285) -- (1140,240) -- (1143,265) -- (1167,265) -- (1170,310) -- (1173,265) -- (1178,265) -- (1181,293) -- (1183,262) -- (1189,375) -- (1360,375);
  \draw[draw=black!20,fill=white,line width=.3pt] (1326,90) rectangle (1368,122);
  \draw[cvg] (1329,97) -- (1343,97); \node[tick] (p2l1) at (1356,97) {Train};
  \draw[cvr] (1329,112) -- (1343,112); \node[tick] (p2l2) at (1355,112) {Test};
  % early stop
  \draw[axs] (601,546) rectangle (900,862);
  \node[ptitle] (p3t) at (750,535) {mushroom dataset: XGBoost(lr=0.1,EarlyStop) Log Loss};
  \foreach \p/\l in {550/0.05,618/0.04,686/0.03,755/0.02,823/0.01} {
    \draw[axs] (596,\p) -- (601,\p); \node[tick,anchor=east] (p3y\p) at (594,\p) {\l};}
  \foreach \p/\l in {614/0.0,650/2.5,686/5.0,722/7.5,758/10.0,793/12.5,829/15.0,865/17.5} {
    \draw[axs] (\p,862) -- (\p,867); \node[tick] (p3x\p) at (\p,874) {\l};}
  \node[tick] (p3xl) at (750,886) {Round};
  \node[tick,rotate=90] (p3yl) at (575,705) {Error};
  \draw[cvr] (614,560) -- (628,601) -- (642,560) -- (657,601) -- (686,601) -- (700,732) -- (714,601) -- (729,601) -- (758,845) -- (772,770) -- (858,770) -- (872,722) -- (887,750);
  \draw[draw=black!20,fill=white,line width=.3pt] (858,552) rectangle (896,570);
  \draw[cvr] (861,560) -- (877,560); \node[tick] (p3l1) at (887,560) {Test};
  \draw[blue!85,line width=.7pt] (748,708) rectangle (768,880);
  \draw[blue!85,line width=.5pt,-{Stealth[length=3pt,width=2.5pt]}] (806,658) -- (775,730);
\end{scope}

% ---------- watermark
\node[anchor=west,inner sep=0pt,text=white!85!black,font=\wmfont\fontsize{15.5}{18}\selectfont] (wm) at (1026,2536) {https://yunyaniu.blog.csdn.net};

% ---------- connectors
\draw[conn] (root.east) to[elb=10] (art.west);
\draw[conn] (root.east) to[elb=10] (n1.west);
\draw[conn] (root.east) to[elb=10] (n2.west);
\draw[conn] (root.east) to[elb=10] (n3.west);
\draw[conn] (root.east) to[elb=10] (n4.west);
\draw[conn] (n1.east) to[elb=10.8] (a1.west);
\draw[conn] (n1.east) to[elb=10.8] (a2.west);
\draw[conn] (a1.east) to[elb=11] (a11.west);
\draw[conn] (a1.east) to[elb=11] (a12.west);
\draw[conn] (a2.east) to[elb=11] (a21.west);
\draw[conn] (a2.east) to[elb=11] (a22.west);
\draw[conn] (n2.east) to[elb=10.4] (b1.west);
\draw[conn] (n2.east) to[elb=10.4] (b2.west);
\foreach \t in {c,d,e,f,g,h} {\draw[conn] (n3.east) to[elb=10.5] (\t.west);}
\foreach \t in {c1,c2,c3,c4} {\draw[conn] (c.east) to[elb=10.5] (\t.west);}
\draw[conn] (c1.east) to[elb=10] (c11.west);
\draw[conn] (c1.east) to[elb=10] (c12.west);
\draw[conn] (c2.east) to[elb=10.8] (c21.west);
\draw[conn] (c2.east) to[elb=10.8] (c22.west);
\draw[conn] (c22.east) -- (c23.west);
\draw[conn] (c3.east) -- (c31.west);
\draw[conn] (c4.east) -- (c41.west);
\draw[conn] (c41.east) -- (c42.west);
\foreach \t in {d1,d2,d3,d4,d5,d6} {\draw[conn] (d.east) to[elb=10.5] (\t.west);}
\draw[conn] (d1.east) -- (d11.west);
\draw[conn] (d6.east) to[elb=10] (d61.west);
\draw[conn] (d6.east) to[elb=10] (d62.west);
\foreach \t in {e1,e2,e3,e4} {\draw[conn] (e.east) to[elb=10] (\t.west);}
\draw[conn] (e1.east) -- (e11.west);
\draw[conn] (e3.east) to[elb=9.8] (e31.west);
\draw[conn] (e3.east) to[elb=9.8] (e32.west);
\draw[conn] (e4.east) to[elb=10] (e41.west);
\draw[conn] (e4.east) to[elb=10] (e42.west);
\foreach \t in {f1,f2,f3} {\draw[conn] (f.east) to[elb=11] (\t.west);}
\draw[conn] (f1.east) -- (f11.west);
\draw[conn] (f3.east) to[elb=10.2] (f31.west);
\draw[conn] (f3.east) to[elb=10.2] (f32.west);
\foreach \t in {g1,g2,g3} {\draw[conn] (g.east) to[elb=10.2] (\t.west);}
\draw[conn] (g2.east) -- (g21.west);
\foreach \t in {h1,h2,h3,h4} {\draw[conn] (h.east) to[elb=10.3] (\t.west);}
\draw[conn] (h2.east) -- (h21.west);
\foreach \t in {h31,h32,h33,h34,h35} {\draw[conn] (h3.east) to[elb=9.9] (\t.west);}
\draw[conn] (h31.east) -- (h311.west);
\draw[conn] (h34.east) -- (h341.west);
\draw[conn] (h35.east) -- (h351.west);
\draw[conn] (h351.east) -- (h36.west);
\foreach \t in {h41,h42,h43} {\draw[conn] (h4.east) to[elb=10.4] (\t.west);}
\draw[conn] (n4.east) to[elb=10.5] (k.west);
\draw[conn] (n4.east) to[elb=10.5] (m.west);
\draw[conn] (k.east) to[elb=9.3] (k1.west);
\draw[conn] (k.east) to[elb=9.3] (k3.west);
\draw[conn] (k1.east) -- (k2.west);
\foreach \t in {m1,m2,m3} {\draw[conn] (m.east) to[elb=10] (\t.west);}
\draw[conn] (m1.east) to[elb=10] (m11.west);
\draw[conn] (m1.east) to[elb=10] (m12.west);
\draw[conn] (m2.east) -- (m21.west);
\draw[conn] (m21.east) -- (m22.west);
\draw[conn] (m22.east) -- (m23.west);
\draw[conn] (m3.east) -- (m31.west);
\end{tikzpicture}
\end{document}
